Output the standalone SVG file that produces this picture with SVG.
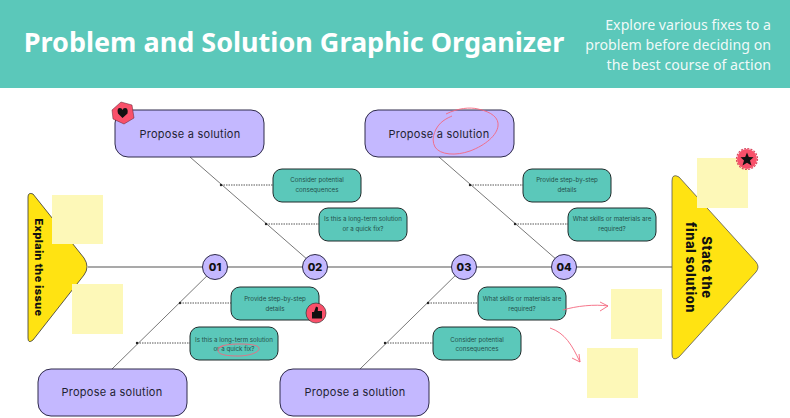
<svg xmlns="http://www.w3.org/2000/svg" width="790" height="418" viewBox="0 0 790 418">
<defs><style>
.t{font-family:"Noto Sans","Liberation Sans",sans-serif}
.sol rect{fill:#c4b8ff;stroke:#2e2a4a;stroke-width:1}
.sol text{font-family:"Inter","Liberation Sans",sans-serif;font-size:11px;letter-spacing:.25px;fill:#1f1f33;text-anchor:middle}
.tip rect{fill:#5bc8ba;stroke:#1f2a2a;stroke-width:1}
.tip text{font-family:"Inter","Liberation Sans",sans-serif;font-size:6.2px;fill:#24504a;text-anchor:middle}
.num circle{fill:#c4b8ff;stroke:#2e2a4a;stroke-width:1}
.num text{font-family:"Inter","Liberation Sans",sans-serif;font-weight:800;font-size:11px;fill:#111;text-anchor:middle}
.note{fill:#fdf8b8}
.ln{stroke:#555;stroke-width:.8;fill:none}
.dot{stroke:#444;stroke-width:.9;stroke-dasharray:1.5 1;fill:none}
.pk{stroke:#f4667e;stroke-width:.9;fill:none}
.hd{font-family:"Inter","Liberation Sans",sans-serif;font-weight:800;fill:#111;text-anchor:middle}
</style></defs>
<rect id="header" width="790" height="88" fill="#5bc8ba"/>
<text x="294" y="52" class="t" font-size="27" font-weight="700" fill="#fff" text-anchor="middle">Problem and Solution Graphic Organizer</text>
<g class="t" font-size="14.2" fill="#fff" fill-opacity=".92" text-anchor="end"><text x="771" y="30">Explore various fixes to a</text><text x="771" y="50">problem before deciding on</text><text x="771" y="70">the best course of action</text></g>

<g id="connectors">
<path d="M88 267H673" stroke="#555" stroke-width="1.2" fill="none"/>
<path class="ln" d="M190 157L316 267M439 157L565 267M216 267L112 369M464 267L360 369"/>
<path class="dot" d="M221 185H273M266 224H319M180 303H231M137 343H190M470 185H523M515 224H568M428 303H478M385 343H433"/>
<g fill="#222"><circle cx="221" cy="185" r="1.2"/><circle cx="266" cy="224" r="1.2"/><circle cx="180" cy="303" r="1.2"/><circle cx="137" cy="343" r="1.2"/><circle cx="470" cy="185" r="1.2"/><circle cx="515" cy="224" r="1.2"/><circle cx="428" cy="303" r="1.2"/><circle cx="385" cy="343" r="1.2"/></g>
</g>

<g id="issue"><path d="M28 197Q28 192 33 194L84 258Q90 267 84 275L33 340Q28 344 28 338Z" fill="#ffe312" stroke="#333" stroke-width=".8"/><text class="hd" font-size="11" letter-spacing=".35" transform="translate(35 267.500) rotate(90)">Explain the issue</text></g>
<g id="final"><path d="M672 181Q672 173 679 177L756 262Q760 267 756 272L679 357Q672 362 672 354Z" fill="#ffe312" stroke="#555" stroke-width=".8"/><g class="hd" font-size="13" letter-spacing=".5"><text transform="translate(702 267.500) rotate(90)">State the</text><text transform="translate(686 267.500) rotate(90)">final solution</text></g></g>

<g id="note1"><rect class="note" x="52" y="195" width="51" height="49"/></g>
<g id="note2"><rect class="note" x="72" y="284" width="51" height="50"/></g>
<g id="note3"><rect class="note" x="697" y="158" width="51" height="50"/></g>
<g id="note4"><rect class="note" x="611" y="289" width="51" height="50"/></g>
<g id="note5"><rect class="note" x="587" y="348" width="51" height="50"/></g>

<g id="sol1" class="sol"><rect x="115" y="110" width="149" height="47" rx="13"/><text x="190" y="138">Propose a solution</text></g>
<g id="sol2" class="sol"><rect x="365" y="110" width="149" height="47" rx="13"/><text x="439" y="138">Propose a solution</text></g>
<g id="sol3" class="sol"><rect x="38" y="369" width="149" height="47" rx="13"/><text x="112" y="396">Propose a solution</text></g>
<g id="sol4" class="sol"><rect x="280" y="369" width="149" height="47" rx="13"/><text x="355" y="396">Propose a solution</text></g>

<g id="tip1" class="tip"><rect x="273" y="169" width="88" height="33" rx="9"/><text x="317" y="182">Consider potential</text><text x="317" y="192">consequences</text></g>
<g id="tip2" class="tip"><rect x="319" y="208" width="88" height="33" rx="9"/><text x="363" y="221">Is this a long-term solution</text><text x="363" y="231">or a quick fix?</text></g>
<g id="tip3" class="tip"><rect x="231" y="287" width="88" height="33" rx="9"/><text x="275" y="301">Provide step-by-step</text><text x="275" y="311">details</text></g>
<g id="tip4" class="tip"><rect x="190" y="327" width="88" height="33" rx="9"/><text x="234" y="341.500">Is this a long-term solution</text><text x="234" y="351">or a quick fix?</text></g>
<g id="tip5" class="tip"><rect x="523" y="169" width="88" height="33" rx="9"/><text x="567" y="182">Provide step-by-step</text><text x="567" y="192">details</text></g>
<g id="tip6" class="tip"><rect x="568" y="208" width="88" height="33" rx="9"/><text x="612" y="221">What skills or materials are</text><text x="612" y="231">required?</text></g>
<g id="tip7" class="tip"><rect x="478" y="287" width="88" height="33" rx="9"/><text x="522" y="301">What skills or materials are</text><text x="522" y="311">required?</text></g>
<g id="tip8" class="tip"><rect x="433" y="327" width="88" height="33" rx="9"/><text x="477" y="341.500">Consider potential</text><text x="477" y="351">consequences</text></g>

<g id="n1" class="num"><circle cx="215" cy="267" r="12.500"/><text x="215" y="271">01</text></g>
<g id="n2" class="num"><circle cx="315" cy="267" r="12.500"/><text x="315" y="271">02</text></g>
<g id="n3" class="num"><circle cx="464" cy="267" r="12.500"/><text x="464" y="271">03</text></g>
<g id="n4" class="num"><circle cx="564" cy="267" r="12.500"/><text x="564" y="271">04</text></g>

<g id="sticker-heart"><path d="M112 110L121 102L132 105L134 118L124 124L113 119Z" fill="#f9506a" stroke="#5a2030" stroke-width=".5" stroke-linejoin="round"/><path d="M122.500 118L118 113.500Q116.500 108 120 108Q122 108 122.500 110Q123 108 125 108Q128.500 108 127.500 113.500Z" fill="#111"/></g>
<g id="sticker-star"><circle cx="747" cy="159" r="10" fill="#f9506a"/><circle cx="747" cy="159" r="10.500" fill="none" stroke="#d8485f" stroke-width="1.200" stroke-dasharray="2 1.300"/><path d="M747 152.500L748.800 157L753.500 157.300L750 160.500L751.500 165.500L747 162.800L742.500 165.500L744 160.500L740.500 157.300L745.200 157Z" fill="#111"/></g>
<g id="sticker-thumb"><circle cx="316" cy="313" r="10" fill="#f9506a" stroke="#222" stroke-width=".6"/><path d="M312 312H314L316 306.500L318 307.500L317.800 311H322V318.500H312Z" fill="#111"/></g>

<g id="scribbles">
<path class="pk" d="M446 114C458 108 470 107 478 109C492 112 499 118 498 126C497 135 486 145 470 151C456 156 440 155 435 147C430 138 436 126 443 121C447 118 450 117 452 116"/>
<path class="pk" d="M218 348C222 345 230 344 240 344C250 344 258 345 259 348C260 352 250 356 238 356C228 356 219 355 218 351C218 349 220 347 223 346"/>
<path class="pk" d="M563 310C576 306 595 304 608 306M600 302L608 306L600 311"/>
<path class="pk" d="M550 328C565 333 572 345 580 362M572 358L580 362L579 354"/>
</g>
</svg>
